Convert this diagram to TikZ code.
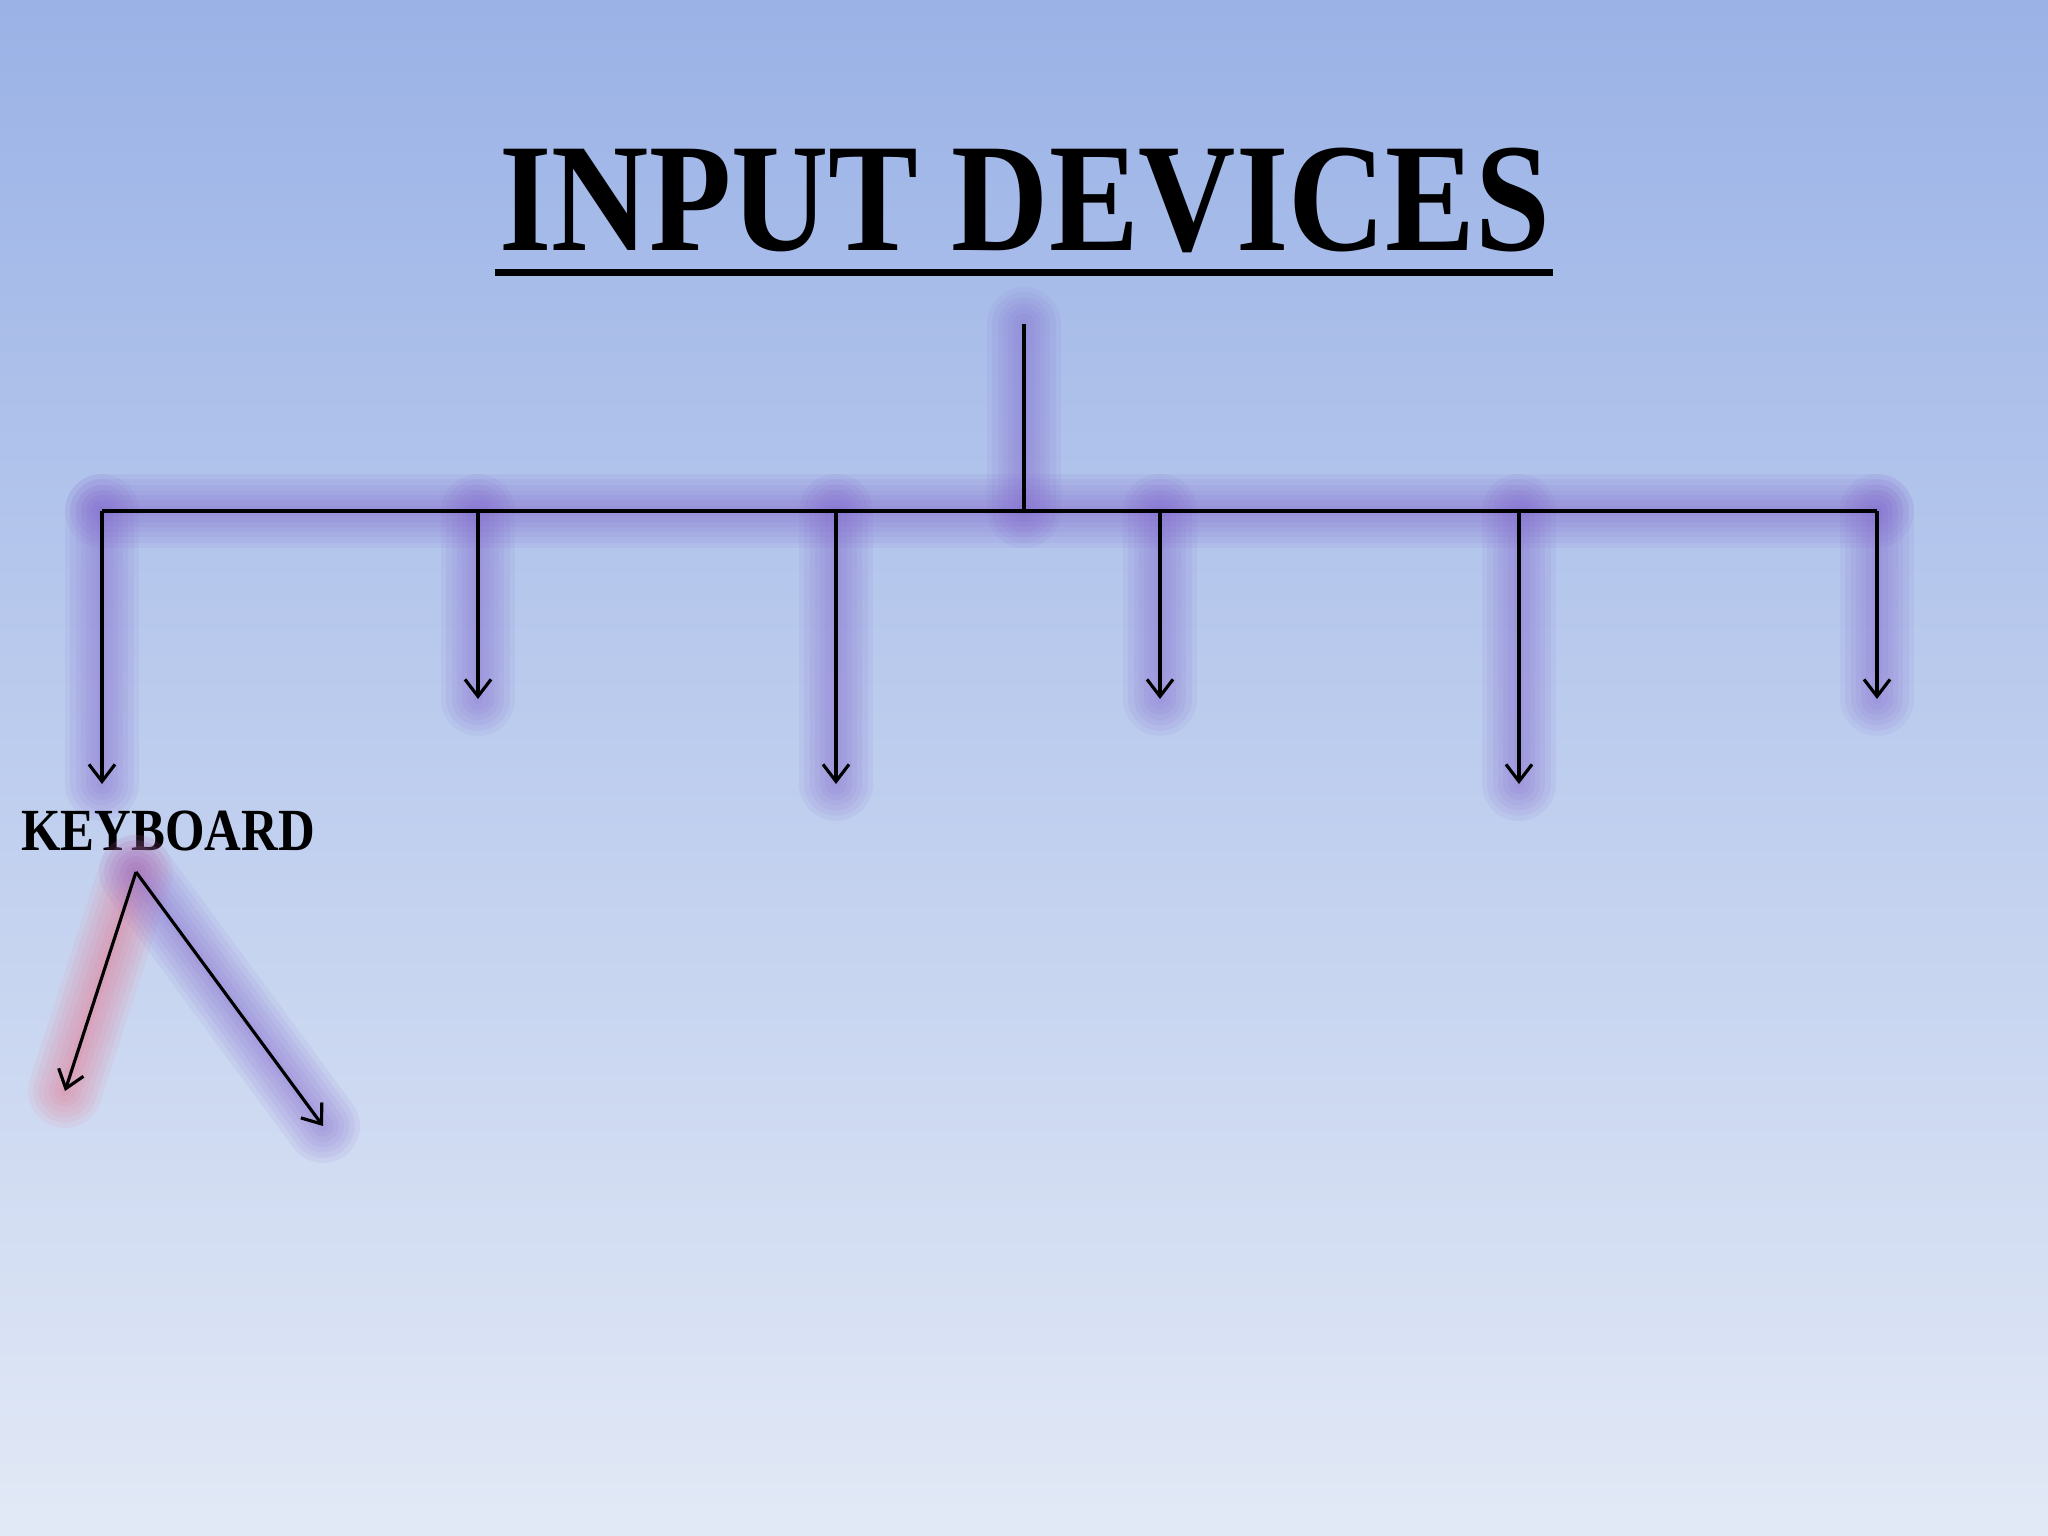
\documentclass[tikz,border=0pt]{standalone}
\usepackage{fontspec}
\setmainfont{Liberation Serif}
\usetikzlibrary{arrows.meta,calc,positioning}

\definecolor{bgtop}{RGB}{154,178,230}
\definecolor{bgbot}{RGB}{226,233,246}
\definecolor{glowpurple}{RGB}{130,100,205}
\definecolor{glowred}{RGB}{236,110,135}

\tikzset{
  link/.style={draw=black, line width=0.9pt},
  arrowlink/.style={link, -{Straight Barb[length=1.7mm,width=2.6mm,line width=0.9pt]}},
  glowline/.style={line width=#1, opacity=0.085, line cap=round, line join=round},
}
\newcommand{\glowpath}[2]{%
  \foreach \gw in {21pt,18pt,15pt,12pt,9pt,6pt,3pt} {\draw[#1, glowline=\gw] #2;}}

\begin{document}
\begin{tikzpicture}[x=0.01cm, y=0.01cm, >=Latex]
  \shade[top color=bgtop, bottom color=bgbot] (0,0) rectangle (2048,1536);
  \useasboundingbox (0,0) rectangle (2048,1536);

  % title
  \node[inner sep=0pt, anchor=base, xscale=0.87, font=\bfseries\fontsize{44}{44}\selectfont] (title) at (1025,1285) {INPUT DEVICES};
  \draw[line width=7pt*0.01/0.0352778] ($(title.base west)+(-4,-22)$) -- ($(title.base east)+(2,-22)$);

  \coordinate (top) at (1024,1212);
  \coordinate (hub) at (1024,1025);
  \coordinate (barL) at (102,1025);
  \coordinate (barR) at (1877,1025);

  % glow
  \glowpath{glowpurple}{(top) -- (hub)}
  \glowpath{glowpurple}{(barL) -- (barR)}
  \foreach \bx/\by [count=\i] in {102/752, 478/837, 836/752, 1160/837, 1519/752, 1877/837} {
    \glowpath{glowpurple}{(\bx,1025) -- (\bx,\by)}
  }

  % tree
  \draw[link] (top) -- (hub);
  \draw[link] (barL) -- (barR);
  \foreach \bx/\by [count=\i] in {102/752, 478/837, 836/752, 1160/837, 1519/752, 1877/837} {
    \coordinate (dev\i) at (\bx,\by);
    \draw[arrowlink] (\bx,1025) -- (dev\i);
  }

  % keyboard
  \node[inner sep=0pt, xscale=0.85, font=\bfseries\fontsize{17}{17}\selectfont] (kbd) at (168,705) {KEYBOARD};
  \coordinate (kbdsplit) at (136,664);
  \coordinate (kbdA) at (65,445);
  \coordinate (kbdB) at (323,410);
  \glowpath{glowred}{(kbdsplit) -- (kbdA)}
  \glowpath{glowpurple}{(kbdsplit) -- (kbdB)}
  \draw[arrowlink] (kbdsplit) -- (kbdA);
  \draw[arrowlink] (kbdsplit) -- (kbdB);
\end{tikzpicture}
\end{document}
